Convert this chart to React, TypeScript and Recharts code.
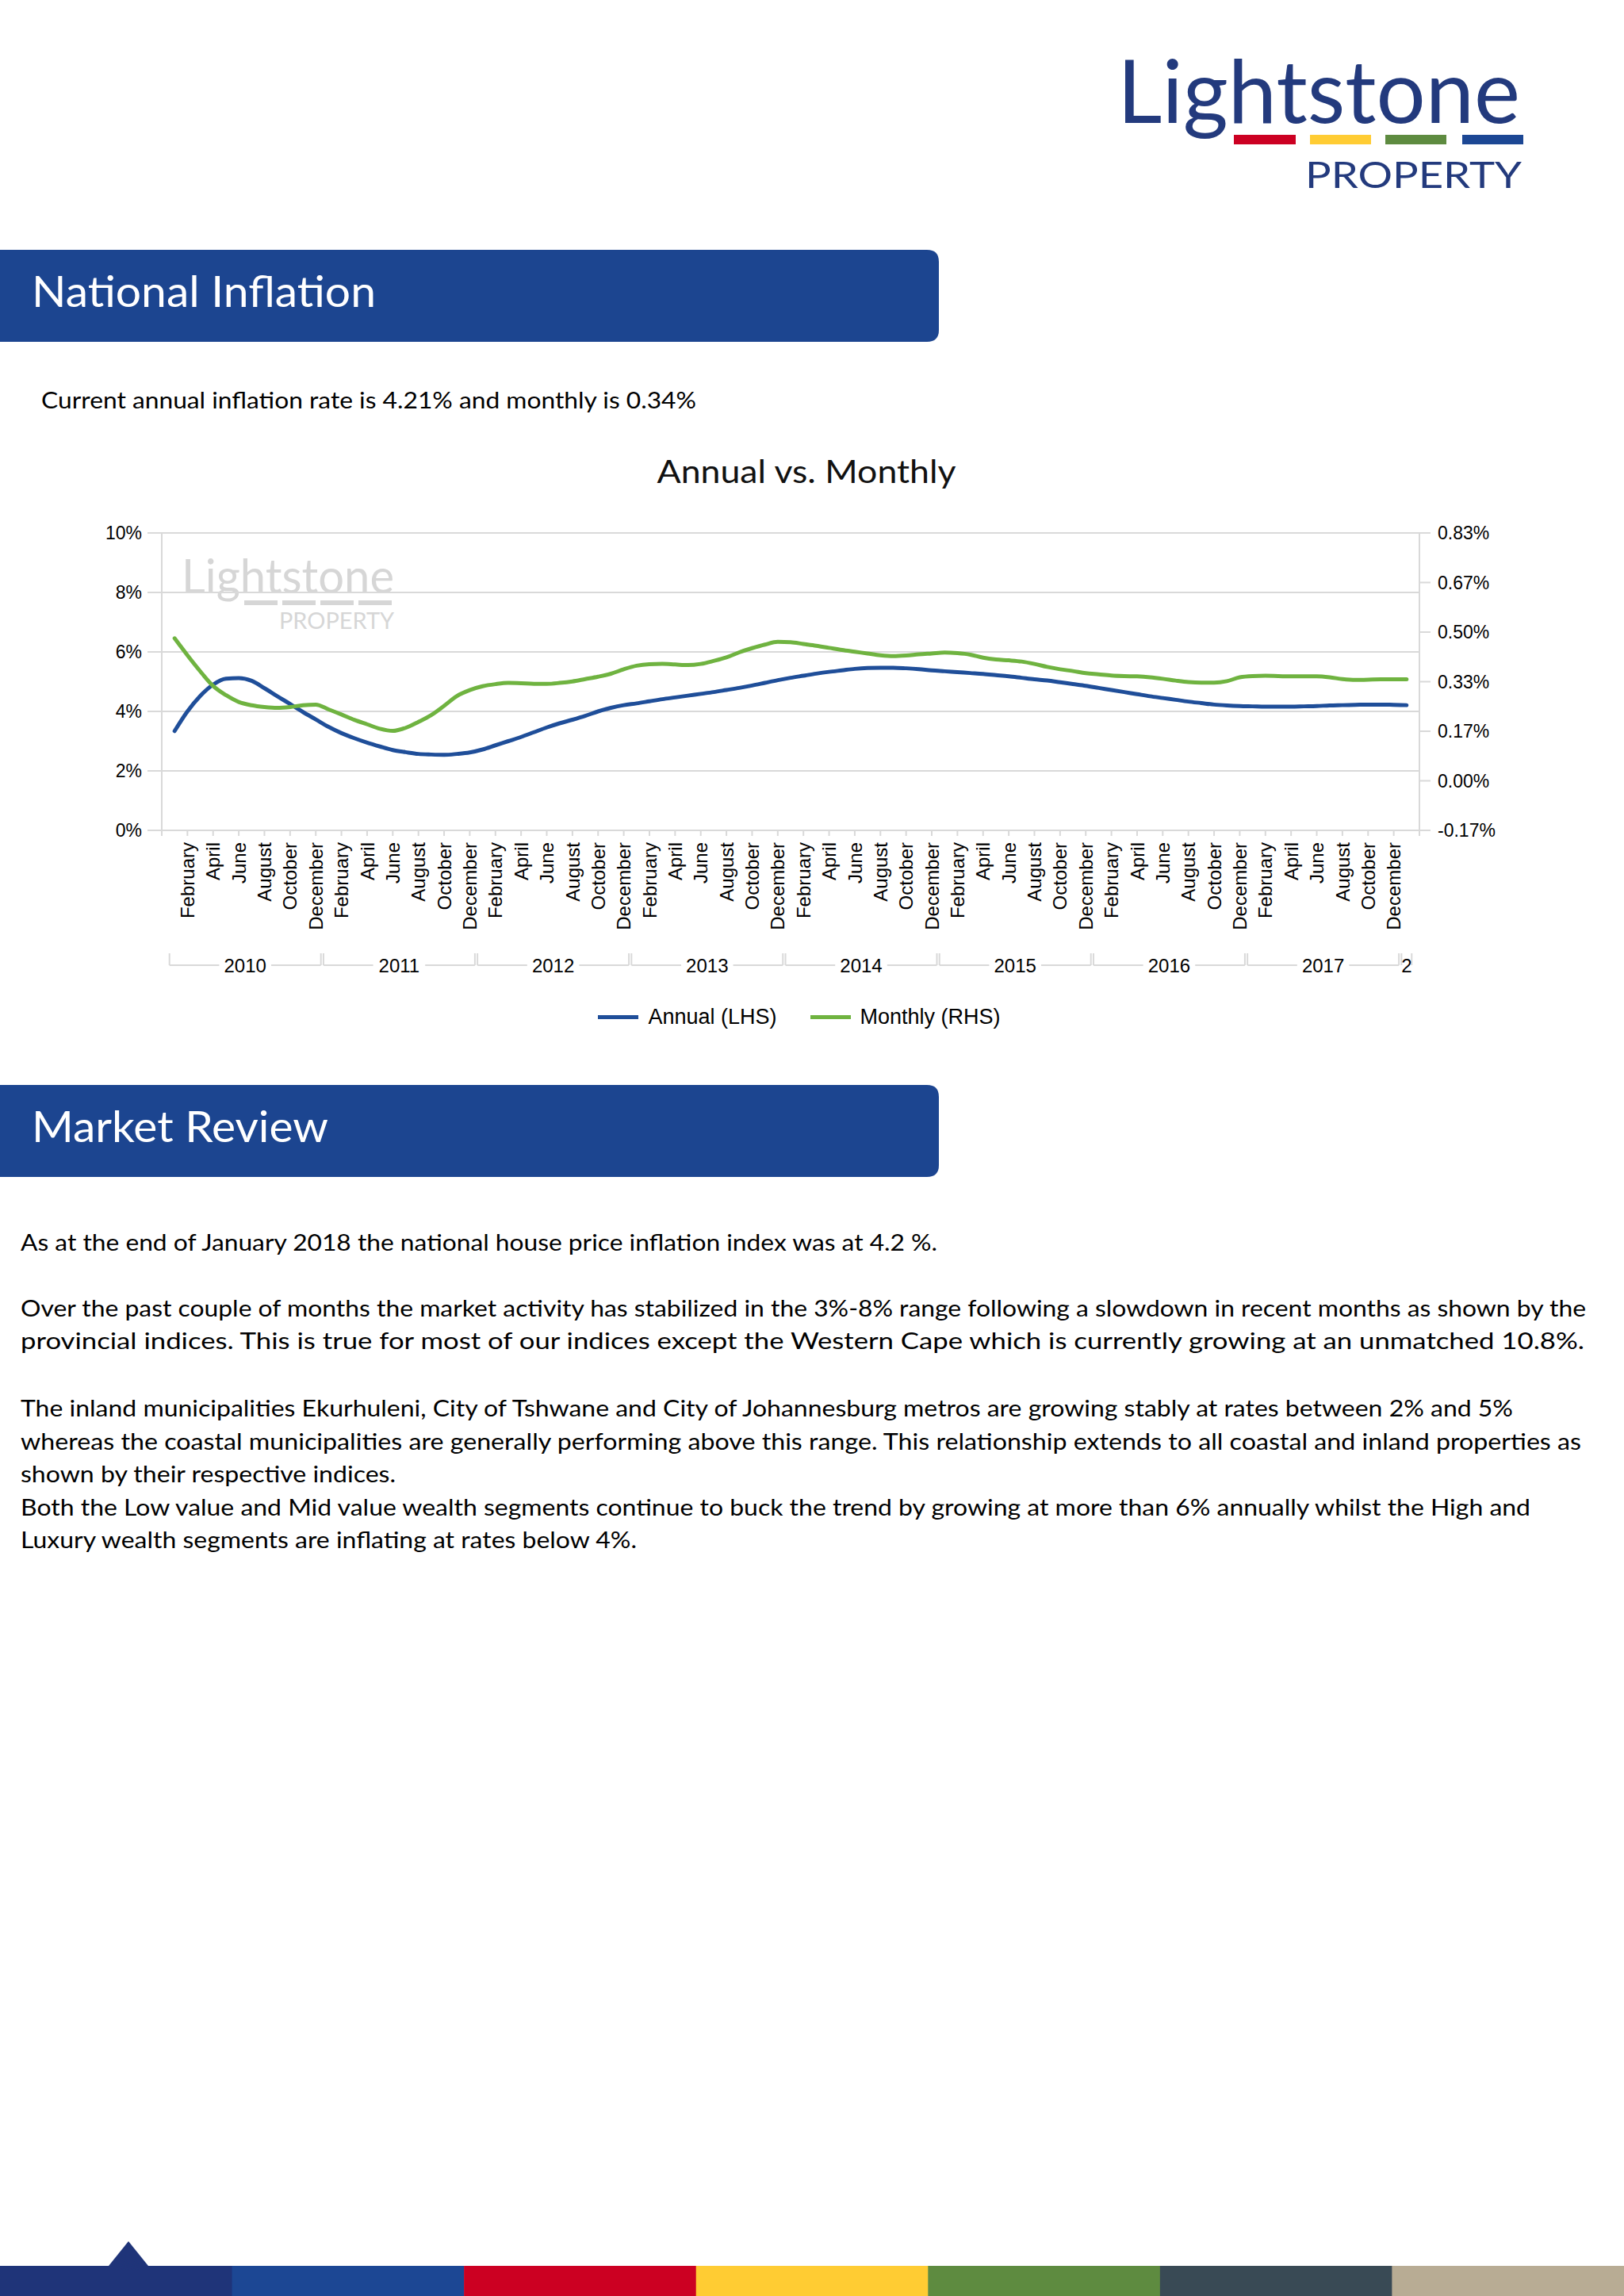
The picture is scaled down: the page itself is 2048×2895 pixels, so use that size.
import React from "react";
import { LineChart, Line, XAxis, YAxis, CartesianGrid, Legend } from "recharts";

// categories
const years = ["2010", "2011", "2012", "2013", "2014", "2015", "2016", "2017", "2018"];
const yearLabels = ["2010", "2011", "2012", "2013", "2014", "2015", "2016", "2017", "2"];
const monthNames = [
  "January", "February", "March", "April", "May", "June",
  "July", "August", "September", "October", "November", "December",
];

// Annual inflation, % (LHS), Jan 2010 - Jan 2018
const annualRate = [
  3.34, 4.0, 4.52, 4.9, 5.1, 5.12, 5.03, 4.78, 4.51, 4.25, 3.98, 3.73, // 2010
  3.48, 3.27, 3.1, 2.95, 2.82, 2.7, 2.63, 2.57, 2.55, 2.54, 2.57, 2.62, // 2011
  2.72, 2.86, 3.0, 3.14, 3.3, 3.46, 3.6, 3.72, 3.85, 4.0, 4.12, 4.21, // 2012
  4.27, 4.34, 4.41, 4.47, 4.53, 4.59, 4.65, 4.72, 4.79, 4.87, 4.96, 5.05, // 2013
  5.13, 5.2, 5.27, 5.33, 5.38, 5.43, 5.46, 5.47, 5.47, 5.45, 5.42, 5.38, // 2014
  5.35, 5.32, 5.29, 5.26, 5.22, 5.18, 5.13, 5.08, 5.04, 4.98, 4.92, 4.86, // 2015
  4.79, 4.72, 4.65, 4.58, 4.51, 4.45, 4.39, 4.33, 4.28, 4.23, 4.2, 4.18, // 2016
  4.17, 4.16, 4.16, 4.16, 4.17, 4.18, 4.2, 4.21, 4.22, 4.23, 4.23, 4.22, // 2017
  4.21, // 2018
];

// Monthly inflation, % (RHS)
const monthlyRate = [
  0.479, 0.422, 0.368, 0.319, 0.288, 0.265, 0.254, 0.248, 0.245, 0.248, 0.254, 0.256,
  0.24, 0.223, 0.205, 0.19, 0.175, 0.168, 0.178, 0.198, 0.221, 0.252, 0.285, 0.305,
  0.318, 0.325, 0.329, 0.328, 0.326, 0.326, 0.329, 0.334, 0.342, 0.35, 0.36, 0.375,
  0.387, 0.392, 0.393, 0.391, 0.389, 0.393, 0.403, 0.415, 0.432, 0.446, 0.458, 0.467,
  0.466, 0.46, 0.454, 0.447, 0.44, 0.434, 0.428, 0.422, 0.419, 0.421, 0.425, 0.428,
  0.431, 0.429, 0.424, 0.414, 0.408, 0.405, 0.401, 0.393, 0.383, 0.375, 0.369, 0.362,
  0.358, 0.354, 0.352, 0.351, 0.348, 0.343, 0.337, 0.332, 0.33, 0.33, 0.335, 0.348,
  0.352, 0.353, 0.352, 0.351, 0.351, 0.351, 0.348, 0.342, 0.339, 0.34, 0.341, 0.341,
  0.341,
];

// tick values
const leftTicks = [0, 2, 4, 6, 8, 10];
const rightTicks = [-0.1667, 0, 0.1667, 0.3333, 0.5, 0.6667, 0.8333];
const xDomain = [-1, 97];

const periods = years.flatMap((y) => monthNames.map((m) => `${m} ${y}`)).slice(0, annualRate.length);
const rows = periods.map((p, i) => ({ i, period: p, annual: annualRate[i], monthly: monthlyRate[i] }));

// ticks every second month, incl. the padded ends of the axis
const monthTicks: number[] = [];
for (let t = xDomain[0]; t <= xDomain[1]; t += 2) monthTicks.push(t);

const yearGroups = yearLabels.map((label, k) => {
  const start = k * 12;
  const end = Math.min(start + 11, rows.length - 1);
  return { label, start, end, center: (start + end) / 2 };
});

const CHART_W = 2048;
const CHART_H = 670;
const LEFT_W = 204;
const RIGHT_W = 258;
const MONTH_PX = (CHART_W - LEFT_W - RIGHT_W) / (xDomain[1] - xDomain[0]);

const BLUE = "#1f4e99";
const GREEN = "#6fb340";
const GRID = "#d9d9d9";
const AXIS_FONT = "'Liberation Sans', Arial, sans-serif";
const TEXT_FONT = "Lato, 'Open Sans', sans-serif";

function MonthTick(props: any) {
  const { x, y, payload } = props;
  const idx = payload.value;
  if (idx < 0 || idx >= rows.length - 1) return null;
  const label = monthNames[idx % 12];
  return (
    <text
      x={x}
      y={y}
      dy="0.36em"
      transform={`rotate(-90 ${x} ${y})`}
      textAnchor="end"
      fontSize={24}
      fontFamily={AXIS_FONT}
      fill="#000"
    >
      {label}
    </text>
  );
}

function YearTick(props: any) {
  const { x, y, payload } = props;
  const g = yearGroups.find((d) => d.center === payload.value);
  if (!g) return null;
  const half = ((g.end - g.start) / 2 + 0.4) * MONTH_PX;
  const lineY = y + 20;
  const textHalf = g.label.length * 6.7 + 6;
  const left = x - half;
  const right = x + half;
  return (
    <g>
      <line x1={left} x2={left} y1={y + 5} y2={lineY} stroke={GRID} strokeWidth={2} />
      <line x1={right} x2={right} y1={y + 5} y2={lineY} stroke={GRID} strokeWidth={2} />
      {half > textHalf + 4 && (
        <>
          <line x1={left} x2={x - textHalf} y1={lineY} y2={lineY} stroke={GRID} strokeWidth={2} />
          <line x1={x + textHalf} x2={right} y1={lineY} y2={lineY} stroke={GRID} strokeWidth={2} />
        </>
      )}
      <text x={x} y={lineY + 8.5} textAnchor="middle" fontSize={24} fontFamily={AXIS_FONT} fill="#000">
        {g.label}
      </text>
    </g>
  );
}

function ChartLegend() {
  const items = [
    { name: "Annual (LHS)", color: BLUE },
    { name: "Monthly (RHS)", color: GREEN },
  ];
  return (
    <div
      style={{
        height: 56,
        margin: 0,
        display: "flex",
        justifyContent: "center",
        alignItems: "center",
        gap: 42,
        paddingRight: 32,
        boxSizing: "border-box",
        fontFamily: AXIS_FONT,
        fontSize: 27,
        color: "#000",
      }}
    >
      {items.map((it) => (
        <div key={it.name} style={{ display: "flex", alignItems: "center", gap: 12 }}>
          <span style={{ display: "inline-block", width: 51, height: 5, background: it.color }} />
          <span>{it.name}</span>
        </div>
      ))}
    </div>
  );
}

const bodyLines = [
  { text: "As at the end of January 2018 the national house price inflation index was at 4.2 %.", y: 1577, w: 1156 },
  { text: "Over the past couple of months the market activity has stabilized in the 3%-8% range following a slowdown in recent months as shown by the", y: 1660, w: 1974 },
  { text: "provincial indices. This is true for most of our indices except the Western Cape which is currently growing at an unmatched 10.8%.", y: 1701, w: 1972 },
  { text: "The inland municipalities Ekurhuleni, City of Tshwane and City of Johannesburg metros are growing stably at rates between 2% and 5%", y: 1786, w: 1882 },
  { text: "whereas the coastal municipalities are generally performing above this range. This relationship extends to all coastal and inland properties as", y: 1828, w: 1968 },
  { text: "shown by their respective indices.", y: 1869, w: 473 },
  { text: "Both the Low value and Mid value wealth segments continue to buck the trend by growing at more than 6% annually whilst the High and", y: 1911, w: 1904 },
  { text: "Luxury wealth segments are inflating at rates below 4%.", y: 1952, w: 777 },
];

const footerColors = ["#1f3479", "#1c4794", "#cc0022", "#ffcc33", "#5e8b40", "#394a55", "#b8ac94"];

function SectionBar({ top, title, w }: { top: number; title: string; w: number }) {
  const h = 116;
  const r = 15;
  return (
    <g>
      <path
        d={`M0 ${top} H${1184 - r} Q1184 ${top} 1184 ${top + r} V${top + h - r} Q1184 ${top + h} ${1184 - r} ${top + h} H0 Z`}
        fill="#1c4590"
      />
      <text x={40} y={top + 72} fontSize={55} fontFamily={TEXT_FONT} fill="#fff" textLength={w} lengthAdjust="spacingAndGlyphs">
        {title}
      </text>
    </g>
  );
}

function PageDecor() {
  const segW = 2048 / footerColors.length;
  return (
    <svg width={2048} height={2895} style={{ position: "absolute", left: 0, top: 0 }}>
      <rect x={0} y={0} width={2048} height={2895} fill="#fff" />
      {/* logo */}
      <text x={1409} y={155} fontSize={110} fontFamily={TEXT_FONT} fill="#233a7d" textLength={508} lengthAdjust="spacingAndGlyphs">
        Lightstone
      </text>
      <rect x={1556} y={170} width={78} height={12} fill="#cc0022" />
      <rect x={1652} y={170} width={77} height={12} fill="#ffcc33" />
      <rect x={1747} y={170} width={77} height={12} fill="#5e8b40" />
      <rect x={1844} y={170} width={77} height={12} fill="#1c4794" />
      <text x={1646} y={237} fontSize={47} fontFamily={TEXT_FONT} fill="#233a7d" textLength={273} lengthAdjust="spacingAndGlyphs">
        PROPERTY
      </text>

      <SectionBar top={315} title="National Inflation" w={434} />
      <text x={52} y={515} fontSize={28} fontFamily={TEXT_FONT} fill="#000" textLength={826} lengthAdjust="spacingAndGlyphs">
        Current annual inflation rate is 4.21% and monthly is 0.34%
      </text>
      <text x={1017} y={609} textAnchor="middle" fontSize={40} fontFamily={TEXT_FONT} fill="#111" textLength={377} lengthAdjust="spacingAndGlyphs">
        Annual vs. Monthly
      </text>

      {/* watermark */}
      <text x={229} y={748} fontSize={60} fontFamily={TEXT_FONT} fill="#d6d6d6" textLength={268} lengthAdjust="spacingAndGlyphs">
        Lightstone
      </text>
      {[0, 1, 2, 3].map((k) => (
        <rect key={k} x={308 + k * 48} y={757} width={42} height={6} fill="#d6d6d6" />
      ))}
      <text x={352} y={793} fontSize={29} fontFamily={TEXT_FONT} fill="#d6d6d6" textLength={145} lengthAdjust="spacingAndGlyphs">
        PROPERTY
      </text>

      <SectionBar top={1368} title="Market Review" w={374} />
      {bodyLines.map((l) => (
        <text key={l.y} x={26} y={l.y} fontSize={28} fontFamily={TEXT_FONT} fill="#000" textLength={l.w} lengthAdjust="spacingAndGlyphs">
          {l.text}
        </text>
      ))}

      {/* footer */}
      {footerColors.map((c, k) => (
        <rect key={c} x={k * segW} y={2857} width={segW + 0.5} height={38} fill={c} />
      ))}
      <path d="M137 2857 L162 2826 L187 2857 Z" fill="#1f3479" />
    </svg>
  );
}

export default function App() {
  return (
    <div style={{ position: "absolute", left: 0, top: 0, width: 2048, height: 2895, overflow: "hidden" }}>
      <PageDecor />
      <div style={{ position: "absolute", left: 0, top: 640 }}>
        <LineChart width={CHART_W} height={CHART_H} data={rows} margin={{ top: 32, right: 0, bottom: 0, left: 0 }}>
          <CartesianGrid xAxisId="m" yAxisId="left" vertical={false} stroke={GRID} strokeWidth={2} />
          <XAxis
            xAxisId="m"
            dataKey="i"
            type="number"
            domain={xDomain}
            ticks={monthTicks}
            interval={0}
            height={150}
            tickSize={7}
            tickMargin={8}
            tick={<MonthTick />}
            axisLine={{ stroke: GRID, strokeWidth: 2 }}
            tickLine={{ stroke: GRID, strokeWidth: 2 }}
          />
          <XAxis
            xAxisId="yr"
            dataKey="i"
            type="number"
            domain={xDomain}
            ticks={yearGroups.map((g) => g.center)}
            interval={0}
            height={57}
            tickSize={0}
            tickMargin={0}
            tick={<YearTick />}
            axisLine={false}
            tickLine={false}
          />
          <YAxis
            yAxisId="left"
            domain={[0, 10]}
            ticks={leftTicks}
            interval={0}
            width={LEFT_W}
            tickSize={18}
            tickMargin={7}
            tickFormatter={(v: number) => `${v}%`}
            tick={{ fontSize: 23, fontFamily: AXIS_FONT, fill: "#000" }}
            axisLine={{ stroke: GRID, strokeWidth: 2 }}
            tickLine={{ stroke: GRID, strokeWidth: 2 }}
          />
          <YAxis
            yAxisId="right"
            orientation="right"
            domain={[rightTicks[0], rightTicks[rightTicks.length - 1]]}
            ticks={rightTicks}
            interval={0}
            width={RIGHT_W}
            tickSize={14}
            tickMargin={9}
            tickFormatter={(v: number) => `${v.toFixed(2)}%`}
            tick={{ fontSize: 23, fontFamily: AXIS_FONT, fill: "#000", textAnchor: "start" }}
            axisLine={{ stroke: GRID, strokeWidth: 2 }}
            tickLine={{ stroke: GRID, strokeWidth: 2 }}
          />
          <Line
            xAxisId="m"
            yAxisId="left"
            dataKey="annual"
            name="Annual (LHS)"
            type="monotone"
            stroke={BLUE}
            strokeWidth={5}
            strokeLinecap="round"
            dot={false}
            activeDot={false}
            isAnimationActive={false}
          />
          <Line
            xAxisId="m"
            yAxisId="right"
            dataKey="monthly"
            name="Monthly (RHS)"
            type="monotone"
            stroke={GREEN}
            strokeWidth={5}
            strokeLinecap="round"
            dot={false}
            activeDot={false}
            isAnimationActive={false}
          />
          <Legend verticalAlign="bottom" content={() => <ChartLegend />} />
        </LineChart>
      </div>
    </div>
  );
}
